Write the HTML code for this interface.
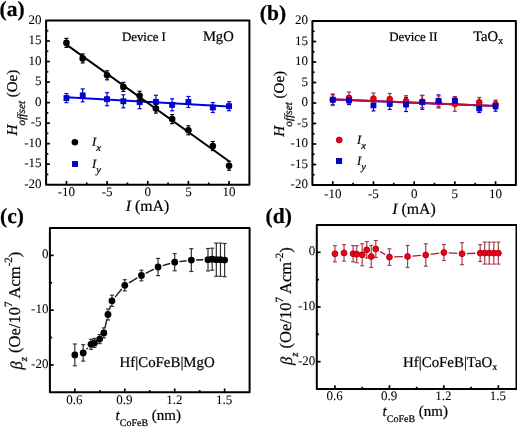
<!DOCTYPE html>
<html><head><meta charset="utf-8"><title>Figure</title>
<style>
html,body{margin:0;padding:0;background:#fff;}
body{width:520px;height:427px;overflow:hidden;}
svg{display:block;}
text{font-family:"Liberation Serif", "Times New Roman", serif;text-rendering:geometricPrecision;stroke:#000;stroke-width:0.22px;}
text.tl{stroke-width:0.05px;}
</style></head>
<body>
<svg width="520" height="427" viewBox="0 0 520 427">
<defs><filter id="bl" x="0" y="0" width="100%" height="100%"><feGaussianBlur stdDeviation="0.5"/></filter></defs>
<rect width="520" height="427" fill="#fff"/>
<g filter="url(#bl)">
<line x1="66.43" y1="184.70" x2="66.43" y2="180.90" stroke="#000" stroke-width="1.7" />
<line x1="107.09" y1="184.70" x2="107.09" y2="180.90" stroke="#000" stroke-width="1.7" />
<line x1="147.75" y1="184.70" x2="147.75" y2="180.90" stroke="#000" stroke-width="1.7" />
<line x1="188.41" y1="184.70" x2="188.41" y2="180.90" stroke="#000" stroke-width="1.7" />
<line x1="229.07" y1="184.70" x2="229.07" y2="180.90" stroke="#000" stroke-width="1.7" />
<line x1="86.76" y1="184.70" x2="86.76" y2="182.50" stroke="#000" stroke-width="1.7" />
<line x1="127.42" y1="184.70" x2="127.42" y2="182.50" stroke="#000" stroke-width="1.7" />
<line x1="168.08" y1="184.70" x2="168.08" y2="182.50" stroke="#000" stroke-width="1.7" />
<line x1="208.74" y1="184.70" x2="208.74" y2="182.50" stroke="#000" stroke-width="1.7" />
<line x1="46.10" y1="164.18" x2="49.90" y2="164.18" stroke="#000" stroke-width="1.7" />
<line x1="46.10" y1="143.65" x2="49.90" y2="143.65" stroke="#000" stroke-width="1.7" />
<line x1="46.10" y1="123.12" x2="49.90" y2="123.12" stroke="#000" stroke-width="1.7" />
<line x1="46.10" y1="102.60" x2="49.90" y2="102.60" stroke="#000" stroke-width="1.7" />
<line x1="46.10" y1="82.08" x2="49.90" y2="82.08" stroke="#000" stroke-width="1.7" />
<line x1="46.10" y1="61.55" x2="49.90" y2="61.55" stroke="#000" stroke-width="1.7" />
<line x1="46.10" y1="41.02" x2="49.90" y2="41.02" stroke="#000" stroke-width="1.7" />
<line x1="46.10" y1="174.44" x2="48.30" y2="174.44" stroke="#000" stroke-width="1.7" />
<line x1="46.10" y1="153.91" x2="48.30" y2="153.91" stroke="#000" stroke-width="1.7" />
<line x1="46.10" y1="133.39" x2="48.30" y2="133.39" stroke="#000" stroke-width="1.7" />
<line x1="46.10" y1="112.86" x2="48.30" y2="112.86" stroke="#000" stroke-width="1.7" />
<line x1="46.10" y1="92.34" x2="48.30" y2="92.34" stroke="#000" stroke-width="1.7" />
<line x1="46.10" y1="71.81" x2="48.30" y2="71.81" stroke="#000" stroke-width="1.7" />
<line x1="46.10" y1="51.29" x2="48.30" y2="51.29" stroke="#000" stroke-width="1.7" />
<line x1="46.10" y1="30.76" x2="48.30" y2="30.76" stroke="#000" stroke-width="1.7" />
<rect x="46.10" y="20.50" width="203.30" height="164.20" fill="none" stroke="#000" stroke-width="2" stroke-linejoin="round"/>
<text x="41.60" y="188.00" font-size="13" text-anchor="end" font-weight="normal" font-style="normal" fill="#000" class="tl">-20</text>
<text x="41.60" y="167.48" font-size="13" text-anchor="end" font-weight="normal" font-style="normal" fill="#000" class="tl">-15</text>
<text x="41.60" y="146.95" font-size="13" text-anchor="end" font-weight="normal" font-style="normal" fill="#000" class="tl">-10</text>
<text x="41.60" y="126.42" font-size="13" text-anchor="end" font-weight="normal" font-style="normal" fill="#000" class="tl">-5</text>
<text x="41.60" y="105.90" font-size="13" text-anchor="end" font-weight="normal" font-style="normal" fill="#000" class="tl">0</text>
<text x="41.60" y="85.38" font-size="13" text-anchor="end" font-weight="normal" font-style="normal" fill="#000" class="tl">5</text>
<text x="41.60" y="64.85" font-size="13" text-anchor="end" font-weight="normal" font-style="normal" fill="#000" class="tl">10</text>
<text x="41.60" y="44.32" font-size="13" text-anchor="end" font-weight="normal" font-style="normal" fill="#000" class="tl">15</text>
<text x="41.60" y="23.80" font-size="13" text-anchor="end" font-weight="normal" font-style="normal" fill="#000" class="tl">20</text>
<text x="66.43" y="196.20" font-size="13" text-anchor="middle" font-weight="normal" font-style="normal" fill="#000" class="tl">-10</text>
<text x="107.09" y="196.20" font-size="13" text-anchor="middle" font-weight="normal" font-style="normal" fill="#000" class="tl">-5</text>
<text x="147.75" y="196.20" font-size="13" text-anchor="middle" font-weight="normal" font-style="normal" fill="#000" class="tl">0</text>
<text x="188.41" y="196.20" font-size="13" text-anchor="middle" font-weight="normal" font-style="normal" fill="#000" class="tl">5</text>
<text x="229.07" y="196.20" font-size="13" text-anchor="middle" font-weight="normal" font-style="normal" fill="#000" class="tl">10</text>
<line x1="66.43" y1="93.60" x2="66.43" y2="102.60" stroke="#0000f0" stroke-width="1.2" />
<line x1="64.43" y1="93.60" x2="68.43" y2="93.60" stroke="#0000f0" stroke-width="1.2" />
<line x1="64.43" y1="102.60" x2="68.43" y2="102.60" stroke="#0000f0" stroke-width="1.2" />
<line x1="82.69" y1="88.90" x2="82.69" y2="101.90" stroke="#0000f0" stroke-width="1.2" />
<line x1="80.69" y1="88.90" x2="84.69" y2="88.90" stroke="#0000f0" stroke-width="1.2" />
<line x1="80.69" y1="101.90" x2="84.69" y2="101.90" stroke="#0000f0" stroke-width="1.2" />
<line x1="107.09" y1="92.70" x2="107.09" y2="105.70" stroke="#0000f0" stroke-width="1.2" />
<line x1="105.09" y1="92.70" x2="109.09" y2="92.70" stroke="#0000f0" stroke-width="1.2" />
<line x1="105.09" y1="105.70" x2="109.09" y2="105.70" stroke="#0000f0" stroke-width="1.2" />
<line x1="123.35" y1="94.80" x2="123.35" y2="107.80" stroke="#0000f0" stroke-width="1.2" />
<line x1="121.35" y1="94.80" x2="125.35" y2="94.80" stroke="#0000f0" stroke-width="1.2" />
<line x1="121.35" y1="107.80" x2="125.35" y2="107.80" stroke="#0000f0" stroke-width="1.2" />
<line x1="139.62" y1="95.70" x2="139.62" y2="108.70" stroke="#0000f0" stroke-width="1.2" />
<line x1="137.62" y1="95.70" x2="141.62" y2="95.70" stroke="#0000f0" stroke-width="1.2" />
<line x1="137.62" y1="108.70" x2="141.62" y2="108.70" stroke="#0000f0" stroke-width="1.2" />
<line x1="155.88" y1="95.30" x2="155.88" y2="108.30" stroke="#0000f0" stroke-width="1.2" />
<line x1="153.88" y1="95.30" x2="157.88" y2="95.30" stroke="#0000f0" stroke-width="1.2" />
<line x1="153.88" y1="108.30" x2="157.88" y2="108.30" stroke="#0000f0" stroke-width="1.2" />
<line x1="172.15" y1="98.80" x2="172.15" y2="110.80" stroke="#0000f0" stroke-width="1.2" />
<line x1="170.15" y1="98.80" x2="174.15" y2="98.80" stroke="#0000f0" stroke-width="1.2" />
<line x1="170.15" y1="110.80" x2="174.15" y2="110.80" stroke="#0000f0" stroke-width="1.2" />
<line x1="188.41" y1="96.50" x2="188.41" y2="107.50" stroke="#0000f0" stroke-width="1.2" />
<line x1="186.41" y1="96.50" x2="190.41" y2="96.50" stroke="#0000f0" stroke-width="1.2" />
<line x1="186.41" y1="107.50" x2="190.41" y2="107.50" stroke="#0000f0" stroke-width="1.2" />
<line x1="212.81" y1="102.50" x2="212.81" y2="112.50" stroke="#0000f0" stroke-width="1.2" />
<line x1="210.81" y1="102.50" x2="214.81" y2="102.50" stroke="#0000f0" stroke-width="1.2" />
<line x1="210.81" y1="112.50" x2="214.81" y2="112.50" stroke="#0000f0" stroke-width="1.2" />
<line x1="229.07" y1="101.70" x2="229.07" y2="110.70" stroke="#0000f0" stroke-width="1.2" />
<line x1="227.07" y1="101.70" x2="231.07" y2="101.70" stroke="#0000f0" stroke-width="1.2" />
<line x1="227.07" y1="110.70" x2="231.07" y2="110.70" stroke="#0000f0" stroke-width="1.2" />
<line x1="66.43" y1="97.30" x2="229.07" y2="106.50" stroke="#0000f0" stroke-width="2.0" />
<rect x="63.98" y="95.65" width="4.90" height="4.90" fill="#0000f0" stroke="#00008a" stroke-width="0.9"/>
<rect x="80.24" y="92.95" width="4.90" height="4.90" fill="#0000f0" stroke="#00008a" stroke-width="0.9"/>
<rect x="104.64" y="96.75" width="4.90" height="4.90" fill="#0000f0" stroke="#00008a" stroke-width="0.9"/>
<rect x="120.90" y="98.85" width="4.90" height="4.90" fill="#0000f0" stroke="#00008a" stroke-width="0.9"/>
<rect x="137.17" y="99.75" width="4.90" height="4.90" fill="#0000f0" stroke="#00008a" stroke-width="0.9"/>
<rect x="153.43" y="99.35" width="4.90" height="4.90" fill="#0000f0" stroke="#00008a" stroke-width="0.9"/>
<rect x="169.70" y="102.35" width="4.90" height="4.90" fill="#0000f0" stroke="#00008a" stroke-width="0.9"/>
<rect x="185.96" y="99.55" width="4.90" height="4.90" fill="#0000f0" stroke="#00008a" stroke-width="0.9"/>
<rect x="210.36" y="105.05" width="4.90" height="4.90" fill="#0000f0" stroke="#00008a" stroke-width="0.9"/>
<rect x="226.62" y="103.75" width="4.90" height="4.90" fill="#0000f0" stroke="#00008a" stroke-width="0.9"/>
<line x1="66.43" y1="38.40" x2="66.43" y2="47.40" stroke="#000" stroke-width="1.2" />
<line x1="64.43" y1="38.40" x2="68.43" y2="38.40" stroke="#000" stroke-width="1.2" />
<line x1="64.43" y1="47.40" x2="68.43" y2="47.40" stroke="#000" stroke-width="1.2" />
<line x1="82.69" y1="53.90" x2="82.69" y2="62.90" stroke="#000" stroke-width="1.2" />
<line x1="80.69" y1="53.90" x2="84.69" y2="53.90" stroke="#000" stroke-width="1.2" />
<line x1="80.69" y1="62.90" x2="84.69" y2="62.90" stroke="#000" stroke-width="1.2" />
<line x1="107.09" y1="70.80" x2="107.09" y2="79.80" stroke="#000" stroke-width="1.2" />
<line x1="105.09" y1="70.80" x2="109.09" y2="70.80" stroke="#000" stroke-width="1.2" />
<line x1="105.09" y1="79.80" x2="109.09" y2="79.80" stroke="#000" stroke-width="1.2" />
<line x1="123.35" y1="82.40" x2="123.35" y2="91.40" stroke="#000" stroke-width="1.2" />
<line x1="121.35" y1="82.40" x2="125.35" y2="82.40" stroke="#000" stroke-width="1.2" />
<line x1="121.35" y1="91.40" x2="125.35" y2="91.40" stroke="#000" stroke-width="1.2" />
<line x1="139.62" y1="91.30" x2="139.62" y2="100.30" stroke="#000" stroke-width="1.2" />
<line x1="137.62" y1="91.30" x2="141.62" y2="91.30" stroke="#000" stroke-width="1.2" />
<line x1="137.62" y1="100.30" x2="141.62" y2="100.30" stroke="#000" stroke-width="1.2" />
<line x1="155.88" y1="104.10" x2="155.88" y2="113.10" stroke="#000" stroke-width="1.2" />
<line x1="153.88" y1="104.10" x2="157.88" y2="104.10" stroke="#000" stroke-width="1.2" />
<line x1="153.88" y1="113.10" x2="157.88" y2="113.10" stroke="#000" stroke-width="1.2" />
<line x1="172.15" y1="114.60" x2="172.15" y2="123.60" stroke="#000" stroke-width="1.2" />
<line x1="170.15" y1="114.60" x2="174.15" y2="114.60" stroke="#000" stroke-width="1.2" />
<line x1="170.15" y1="123.60" x2="174.15" y2="123.60" stroke="#000" stroke-width="1.2" />
<line x1="188.41" y1="125.80" x2="188.41" y2="134.80" stroke="#000" stroke-width="1.2" />
<line x1="186.41" y1="125.80" x2="190.41" y2="125.80" stroke="#000" stroke-width="1.2" />
<line x1="186.41" y1="134.80" x2="190.41" y2="134.80" stroke="#000" stroke-width="1.2" />
<line x1="212.81" y1="141.50" x2="212.81" y2="150.50" stroke="#000" stroke-width="1.2" />
<line x1="210.81" y1="141.50" x2="214.81" y2="141.50" stroke="#000" stroke-width="1.2" />
<line x1="210.81" y1="150.50" x2="214.81" y2="150.50" stroke="#000" stroke-width="1.2" />
<line x1="229.07" y1="161.20" x2="229.07" y2="170.20" stroke="#000" stroke-width="1.2" />
<line x1="227.07" y1="161.20" x2="231.07" y2="161.20" stroke="#000" stroke-width="1.2" />
<line x1="227.07" y1="170.20" x2="231.07" y2="170.20" stroke="#000" stroke-width="1.2" />
<line x1="66.43" y1="44.60" x2="229.07" y2="161.20" stroke="#000" stroke-width="2.0" />
<circle cx="66.43" cy="42.90" r="3.30" fill="#000"/>
<circle cx="82.69" cy="58.40" r="3.30" fill="#000"/>
<circle cx="107.09" cy="75.30" r="3.30" fill="#000"/>
<circle cx="123.35" cy="86.90" r="3.30" fill="#000"/>
<circle cx="139.62" cy="95.80" r="3.30" fill="#000"/>
<circle cx="155.88" cy="108.60" r="3.30" fill="#000"/>
<circle cx="172.15" cy="119.10" r="3.30" fill="#000"/>
<circle cx="188.41" cy="130.30" r="3.30" fill="#000"/>
<circle cx="212.81" cy="146.00" r="3.30" fill="#000"/>
<circle cx="229.07" cy="165.70" r="3.30" fill="#000"/>
<circle cx="74.90" cy="142.30" r="3.30" fill="#000"/>
<rect x="72.55" y="161.55" width="4.90" height="4.90" fill="#0000f0" stroke="#00008a" stroke-width="0.9"/>
<text x="92" y="146.4" font-size="12.5" font-style="italic">I<tspan font-size="10.5" dy="5">x</tspan></text>
<text x="92" y="168.1" font-size="12.5" font-style="italic">I<tspan font-size="10.5" dy="5">y</tspan></text>
<text x="121.90" y="40.90" font-size="12.9" text-anchor="start" font-weight="normal" font-style="normal" fill="#000" >Device I</text>
<text x="202.90" y="41.00" font-size="14.6" text-anchor="start" font-weight="normal" font-style="normal" fill="#000" >MgO</text>
<text x="-0.50" y="16.20" font-size="21.5" text-anchor="start" font-weight="bold" font-style="normal" fill="#000" >(a)</text>
<text x="147.5" y="211.3" font-size="15.8" text-anchor="middle"><tspan font-style="italic">I</tspan> (mA)</text>
<text transform="translate(17,102.6) rotate(-90)" x="0" y="0" font-size="15" text-anchor="middle"><tspan font-style="italic">H</tspan><tspan font-style="italic" font-size="11.3" dy="8" dx="-0.8">offset</tspan><tspan dy="-8"> (Oe)</tspan></text>
<line x1="332.75" y1="185.00" x2="332.75" y2="181.20" stroke="#000" stroke-width="1.7" />
<line x1="373.45" y1="185.00" x2="373.45" y2="181.20" stroke="#000" stroke-width="1.7" />
<line x1="414.15" y1="185.00" x2="414.15" y2="181.20" stroke="#000" stroke-width="1.7" />
<line x1="454.85" y1="185.00" x2="454.85" y2="181.20" stroke="#000" stroke-width="1.7" />
<line x1="495.55" y1="185.00" x2="495.55" y2="181.20" stroke="#000" stroke-width="1.7" />
<line x1="353.10" y1="185.00" x2="353.10" y2="182.80" stroke="#000" stroke-width="1.7" />
<line x1="393.80" y1="185.00" x2="393.80" y2="182.80" stroke="#000" stroke-width="1.7" />
<line x1="434.50" y1="185.00" x2="434.50" y2="182.80" stroke="#000" stroke-width="1.7" />
<line x1="475.20" y1="185.00" x2="475.20" y2="182.80" stroke="#000" stroke-width="1.7" />
<line x1="312.40" y1="164.50" x2="316.20" y2="164.50" stroke="#000" stroke-width="1.7" />
<line x1="312.40" y1="144.00" x2="316.20" y2="144.00" stroke="#000" stroke-width="1.7" />
<line x1="312.40" y1="123.50" x2="316.20" y2="123.50" stroke="#000" stroke-width="1.7" />
<line x1="312.40" y1="103.00" x2="316.20" y2="103.00" stroke="#000" stroke-width="1.7" />
<line x1="312.40" y1="82.50" x2="316.20" y2="82.50" stroke="#000" stroke-width="1.7" />
<line x1="312.40" y1="62.00" x2="316.20" y2="62.00" stroke="#000" stroke-width="1.7" />
<line x1="312.40" y1="41.50" x2="316.20" y2="41.50" stroke="#000" stroke-width="1.7" />
<line x1="312.40" y1="174.75" x2="314.60" y2="174.75" stroke="#000" stroke-width="1.7" />
<line x1="312.40" y1="154.25" x2="314.60" y2="154.25" stroke="#000" stroke-width="1.7" />
<line x1="312.40" y1="133.75" x2="314.60" y2="133.75" stroke="#000" stroke-width="1.7" />
<line x1="312.40" y1="113.25" x2="314.60" y2="113.25" stroke="#000" stroke-width="1.7" />
<line x1="312.40" y1="92.75" x2="314.60" y2="92.75" stroke="#000" stroke-width="1.7" />
<line x1="312.40" y1="72.25" x2="314.60" y2="72.25" stroke="#000" stroke-width="1.7" />
<line x1="312.40" y1="51.75" x2="314.60" y2="51.75" stroke="#000" stroke-width="1.7" />
<line x1="312.40" y1="31.25" x2="314.60" y2="31.25" stroke="#000" stroke-width="1.7" />
<rect x="312.40" y="21.00" width="203.50" height="164.00" fill="none" stroke="#000" stroke-width="2" stroke-linejoin="round"/>
<text x="307.90" y="188.30" font-size="13" text-anchor="end" font-weight="normal" font-style="normal" fill="#000" class="tl">-20</text>
<text x="307.90" y="167.80" font-size="13" text-anchor="end" font-weight="normal" font-style="normal" fill="#000" class="tl">-15</text>
<text x="307.90" y="147.30" font-size="13" text-anchor="end" font-weight="normal" font-style="normal" fill="#000" class="tl">-10</text>
<text x="307.90" y="126.80" font-size="13" text-anchor="end" font-weight="normal" font-style="normal" fill="#000" class="tl">-5</text>
<text x="307.90" y="106.30" font-size="13" text-anchor="end" font-weight="normal" font-style="normal" fill="#000" class="tl">0</text>
<text x="307.90" y="85.80" font-size="13" text-anchor="end" font-weight="normal" font-style="normal" fill="#000" class="tl">5</text>
<text x="307.90" y="65.30" font-size="13" text-anchor="end" font-weight="normal" font-style="normal" fill="#000" class="tl">10</text>
<text x="307.90" y="44.80" font-size="13" text-anchor="end" font-weight="normal" font-style="normal" fill="#000" class="tl">15</text>
<text x="307.90" y="24.30" font-size="13" text-anchor="end" font-weight="normal" font-style="normal" fill="#000" class="tl">20</text>
<text x="332.75" y="197.80" font-size="13" text-anchor="middle" font-weight="normal" font-style="normal" fill="#000" class="tl">-10</text>
<text x="373.45" y="197.80" font-size="13" text-anchor="middle" font-weight="normal" font-style="normal" fill="#000" class="tl">-5</text>
<text x="414.15" y="197.80" font-size="13" text-anchor="middle" font-weight="normal" font-style="normal" fill="#000" class="tl">0</text>
<text x="454.85" y="197.80" font-size="13" text-anchor="middle" font-weight="normal" font-style="normal" fill="#000" class="tl">5</text>
<text x="495.55" y="197.80" font-size="13" text-anchor="middle" font-weight="normal" font-style="normal" fill="#000" class="tl">10</text>
<line x1="332.75" y1="94.70" x2="332.75" y2="104.70" stroke="#0000f0" stroke-width="1.2" />
<line x1="330.75" y1="94.70" x2="334.75" y2="94.70" stroke="#0000f0" stroke-width="1.2" />
<line x1="330.75" y1="104.70" x2="334.75" y2="104.70" stroke="#0000f0" stroke-width="1.2" />
<line x1="349.03" y1="96.00" x2="349.03" y2="104.60" stroke="#0000f0" stroke-width="1.2" />
<line x1="347.03" y1="96.00" x2="351.03" y2="96.00" stroke="#0000f0" stroke-width="1.2" />
<line x1="347.03" y1="104.60" x2="351.03" y2="104.60" stroke="#0000f0" stroke-width="1.2" />
<line x1="373.45" y1="99.90" x2="373.45" y2="110.90" stroke="#0000f0" stroke-width="1.2" />
<line x1="371.45" y1="99.90" x2="375.45" y2="99.90" stroke="#0000f0" stroke-width="1.2" />
<line x1="371.45" y1="110.90" x2="375.45" y2="110.90" stroke="#0000f0" stroke-width="1.2" />
<line x1="389.73" y1="98.40" x2="389.73" y2="109.40" stroke="#0000f0" stroke-width="1.2" />
<line x1="387.73" y1="98.40" x2="391.73" y2="98.40" stroke="#0000f0" stroke-width="1.2" />
<line x1="387.73" y1="109.40" x2="391.73" y2="109.40" stroke="#0000f0" stroke-width="1.2" />
<line x1="406.01" y1="97.50" x2="406.01" y2="111.50" stroke="#0000f0" stroke-width="1.2" />
<line x1="404.01" y1="97.50" x2="408.01" y2="97.50" stroke="#0000f0" stroke-width="1.2" />
<line x1="404.01" y1="111.50" x2="408.01" y2="111.50" stroke="#0000f0" stroke-width="1.2" />
<line x1="422.29" y1="95.30" x2="422.29" y2="109.30" stroke="#0000f0" stroke-width="1.2" />
<line x1="420.29" y1="95.30" x2="424.29" y2="95.30" stroke="#0000f0" stroke-width="1.2" />
<line x1="420.29" y1="109.30" x2="424.29" y2="109.30" stroke="#0000f0" stroke-width="1.2" />
<line x1="438.57" y1="94.90" x2="438.57" y2="106.90" stroke="#0000f0" stroke-width="1.2" />
<line x1="436.57" y1="94.90" x2="440.57" y2="94.90" stroke="#0000f0" stroke-width="1.2" />
<line x1="436.57" y1="106.90" x2="440.57" y2="106.90" stroke="#0000f0" stroke-width="1.2" />
<line x1="454.85" y1="96.60" x2="454.85" y2="104.60" stroke="#0000f0" stroke-width="1.2" />
<line x1="452.85" y1="96.60" x2="456.85" y2="96.60" stroke="#0000f0" stroke-width="1.2" />
<line x1="452.85" y1="104.60" x2="456.85" y2="104.60" stroke="#0000f0" stroke-width="1.2" />
<line x1="479.27" y1="104.50" x2="479.27" y2="112.50" stroke="#0000f0" stroke-width="1.2" />
<line x1="477.27" y1="104.50" x2="481.27" y2="104.50" stroke="#0000f0" stroke-width="1.2" />
<line x1="477.27" y1="112.50" x2="481.27" y2="112.50" stroke="#0000f0" stroke-width="1.2" />
<line x1="495.55" y1="101.20" x2="495.55" y2="111.20" stroke="#0000f0" stroke-width="1.2" />
<line x1="493.55" y1="101.20" x2="497.55" y2="101.20" stroke="#0000f0" stroke-width="1.2" />
<line x1="493.55" y1="111.20" x2="497.55" y2="111.20" stroke="#0000f0" stroke-width="1.2" />
<line x1="332.75" y1="99.50" x2="495.55" y2="106.00" stroke="#0000f0" stroke-width="2.2" />
<line x1="332.75" y1="94.00" x2="332.75" y2="105.60" stroke="#c02040" stroke-width="1.2" />
<line x1="330.75" y1="94.00" x2="334.75" y2="94.00" stroke="#c02040" stroke-width="1.2" />
<line x1="330.75" y1="105.60" x2="334.75" y2="105.60" stroke="#c02040" stroke-width="1.2" />
<line x1="349.03" y1="92.00" x2="349.03" y2="103.60" stroke="#c02040" stroke-width="1.2" />
<line x1="347.03" y1="92.00" x2="351.03" y2="92.00" stroke="#c02040" stroke-width="1.2" />
<line x1="347.03" y1="103.60" x2="351.03" y2="103.60" stroke="#c02040" stroke-width="1.2" />
<line x1="373.45" y1="93.00" x2="373.45" y2="104.00" stroke="#c02040" stroke-width="1.2" />
<line x1="371.45" y1="93.00" x2="375.45" y2="93.00" stroke="#c02040" stroke-width="1.2" />
<line x1="371.45" y1="104.00" x2="375.45" y2="104.00" stroke="#c02040" stroke-width="1.2" />
<line x1="389.73" y1="93.50" x2="389.73" y2="104.50" stroke="#c02040" stroke-width="1.2" />
<line x1="387.73" y1="93.50" x2="391.73" y2="93.50" stroke="#c02040" stroke-width="1.2" />
<line x1="387.73" y1="104.50" x2="391.73" y2="104.50" stroke="#c02040" stroke-width="1.2" />
<line x1="406.01" y1="95.70" x2="406.01" y2="106.70" stroke="#c02040" stroke-width="1.2" />
<line x1="404.01" y1="95.70" x2="408.01" y2="95.70" stroke="#c02040" stroke-width="1.2" />
<line x1="404.01" y1="106.70" x2="408.01" y2="106.70" stroke="#c02040" stroke-width="1.2" />
<line x1="422.29" y1="95.60" x2="422.29" y2="107.60" stroke="#c02040" stroke-width="1.2" />
<line x1="420.29" y1="95.60" x2="424.29" y2="95.60" stroke="#c02040" stroke-width="1.2" />
<line x1="420.29" y1="107.60" x2="424.29" y2="107.60" stroke="#c02040" stroke-width="1.2" />
<line x1="438.57" y1="96.00" x2="438.57" y2="108.00" stroke="#c02040" stroke-width="1.2" />
<line x1="436.57" y1="96.00" x2="440.57" y2="96.00" stroke="#c02040" stroke-width="1.2" />
<line x1="436.57" y1="108.00" x2="440.57" y2="108.00" stroke="#c02040" stroke-width="1.2" />
<line x1="454.85" y1="96.70" x2="454.85" y2="111.30" stroke="#c02040" stroke-width="1.2" />
<line x1="452.85" y1="96.70" x2="456.85" y2="96.70" stroke="#c02040" stroke-width="1.2" />
<line x1="452.85" y1="111.30" x2="456.85" y2="111.30" stroke="#c02040" stroke-width="1.2" />
<line x1="479.27" y1="97.50" x2="479.27" y2="106.90" stroke="#c02040" stroke-width="1.2" />
<line x1="477.27" y1="97.50" x2="481.27" y2="97.50" stroke="#c02040" stroke-width="1.2" />
<line x1="477.27" y1="106.90" x2="481.27" y2="106.90" stroke="#c02040" stroke-width="1.2" />
<line x1="495.55" y1="100.10" x2="495.55" y2="109.10" stroke="#c02040" stroke-width="1.2" />
<line x1="493.55" y1="100.10" x2="497.55" y2="100.10" stroke="#c02040" stroke-width="1.2" />
<line x1="493.55" y1="109.10" x2="497.55" y2="109.10" stroke="#c02040" stroke-width="1.2" />
<line x1="332.75" y1="99.20" x2="495.55" y2="106.00" stroke="#c0103a" stroke-width="2.1" />
<circle cx="332.75" cy="99.80" r="2.85" fill="#f00018" stroke="#a8000c" stroke-width="0.9"/>
<circle cx="349.03" cy="97.80" r="2.85" fill="#f00018" stroke="#a8000c" stroke-width="0.9"/>
<circle cx="373.45" cy="98.50" r="2.85" fill="#f00018" stroke="#a8000c" stroke-width="0.9"/>
<circle cx="389.73" cy="99.00" r="2.85" fill="#f00018" stroke="#a8000c" stroke-width="0.9"/>
<circle cx="406.01" cy="101.20" r="2.85" fill="#f00018" stroke="#a8000c" stroke-width="0.9"/>
<circle cx="422.29" cy="101.60" r="2.85" fill="#f00018" stroke="#a8000c" stroke-width="0.9"/>
<circle cx="438.57" cy="102.00" r="2.85" fill="#f00018" stroke="#a8000c" stroke-width="0.9"/>
<circle cx="454.85" cy="104.00" r="2.85" fill="#f00018" stroke="#a8000c" stroke-width="0.9"/>
<circle cx="479.27" cy="102.20" r="2.85" fill="#f00018" stroke="#a8000c" stroke-width="0.9"/>
<circle cx="495.55" cy="104.60" r="2.85" fill="#f00018" stroke="#a8000c" stroke-width="0.9"/>
<rect x="330.30" y="97.25" width="4.90" height="4.90" fill="#0000f0" stroke="#00008a" stroke-width="0.9"/>
<rect x="346.58" y="97.85" width="4.90" height="4.90" fill="#0000f0" stroke="#00008a" stroke-width="0.9"/>
<rect x="371.00" y="102.95" width="4.90" height="4.90" fill="#0000f0" stroke="#00008a" stroke-width="0.9"/>
<rect x="387.28" y="101.45" width="4.90" height="4.90" fill="#0000f0" stroke="#00008a" stroke-width="0.9"/>
<rect x="403.56" y="102.05" width="4.90" height="4.90" fill="#0000f0" stroke="#00008a" stroke-width="0.9"/>
<rect x="419.84" y="99.85" width="4.90" height="4.90" fill="#0000f0" stroke="#00008a" stroke-width="0.9"/>
<rect x="436.12" y="98.45" width="4.90" height="4.90" fill="#0000f0" stroke="#00008a" stroke-width="0.9"/>
<rect x="452.40" y="98.15" width="4.90" height="4.90" fill="#0000f0" stroke="#00008a" stroke-width="0.9"/>
<rect x="476.82" y="106.05" width="4.90" height="4.90" fill="#0000f0" stroke="#00008a" stroke-width="0.9"/>
<rect x="493.10" y="103.75" width="4.90" height="4.90" fill="#0000f0" stroke="#00008a" stroke-width="0.9"/>
<circle cx="339.20" cy="140.00" r="2.95" fill="#f00018" stroke="#a8000c" stroke-width="0.9"/>
<rect x="336.55" y="158.45" width="5.10" height="5.10" fill="#0000f0" stroke="#00008a" stroke-width="0.9"/>
<text x="357" y="144" font-size="12.5" font-style="italic">I<tspan font-size="10.5" dy="5">x</tspan></text>
<text x="357" y="165.4" font-size="12.5" font-style="italic">I<tspan font-size="10.5" dy="5">y</tspan></text>
<text x="389.30" y="40.70" font-size="12.9" text-anchor="start" font-weight="normal" font-style="normal" fill="#000" >Device II</text>
<text x="473.2" y="40.9" font-size="14.6">TaO<tspan font-size="10.5" dy="3">x</tspan></text>
<text x="259.80" y="19.90" font-size="21.5" text-anchor="start" font-weight="bold" font-style="normal" fill="#000" >(b)</text>
<text x="414" y="213.6" font-size="15.8" text-anchor="middle"><tspan font-style="italic">I</tspan> (mA)</text>
<text transform="translate(283.5,103.8) rotate(-90)" x="0" y="0" font-size="15" text-anchor="middle"><tspan font-style="italic">H</tspan><tspan font-style="italic" font-size="11.3" dy="8" dx="-0.8">offset</tspan><tspan dy="-8"> (Oe)</tspan></text>
<line x1="74.86" y1="392.30" x2="74.86" y2="388.50" stroke="#000" stroke-width="1.7" />
<line x1="124.79" y1="392.30" x2="124.79" y2="388.50" stroke="#000" stroke-width="1.7" />
<line x1="174.71" y1="392.30" x2="174.71" y2="388.50" stroke="#000" stroke-width="1.7" />
<line x1="224.64" y1="392.30" x2="224.64" y2="388.50" stroke="#000" stroke-width="1.7" />
<line x1="99.82" y1="392.30" x2="99.82" y2="390.10" stroke="#000" stroke-width="1.7" />
<line x1="149.75" y1="392.30" x2="149.75" y2="390.10" stroke="#000" stroke-width="1.7" />
<line x1="199.68" y1="392.30" x2="199.68" y2="390.10" stroke="#000" stroke-width="1.7" />
<line x1="49.90" y1="255.38" x2="53.70" y2="255.38" stroke="#000" stroke-width="1.7" />
<line x1="49.90" y1="310.15" x2="53.70" y2="310.15" stroke="#000" stroke-width="1.7" />
<line x1="49.90" y1="364.92" x2="53.70" y2="364.92" stroke="#000" stroke-width="1.7" />
<line x1="49.90" y1="282.77" x2="52.10" y2="282.77" stroke="#000" stroke-width="1.7" />
<line x1="49.90" y1="337.53" x2="52.10" y2="337.53" stroke="#000" stroke-width="1.7" />
<rect x="49.90" y="228.00" width="199.70" height="164.30" fill="none" stroke="#000" stroke-width="2" stroke-linejoin="round"/>
<text x="48.40" y="258.38" font-size="13" text-anchor="end" font-weight="normal" font-style="normal" fill="#000" class="tl">0</text>
<text x="48.40" y="313.15" font-size="13" text-anchor="end" font-weight="normal" font-style="normal" fill="#000" class="tl">-10</text>
<text x="48.40" y="367.92" font-size="13" text-anchor="end" font-weight="normal" font-style="normal" fill="#000" class="tl">-20</text>
<text x="74.46" y="403.60" font-size="13" text-anchor="middle" font-weight="normal" font-style="normal" fill="#000" class="tl">0.6</text>
<text x="124.39" y="403.60" font-size="13" text-anchor="middle" font-weight="normal" font-style="normal" fill="#000" class="tl">0.9</text>
<text x="174.31" y="403.60" font-size="13" text-anchor="middle" font-weight="normal" font-style="normal" fill="#000" class="tl">1.2</text>
<text x="224.24" y="403.60" font-size="13" text-anchor="middle" font-weight="normal" font-style="normal" fill="#000" class="tl">1.5</text>
<line x1="86.41" y1="349.35" x2="87.78" y2="347.85" stroke="#1a1a1a" stroke-width="1.4"/>
<line x1="104.88" y1="328.22" x2="106.92" y2="319.18" stroke="#1a1a1a" stroke-width="1.4"/>
<line x1="109.32" y1="309.89" x2="110.63" y2="305.41" stroke="#1a1a1a" stroke-width="1.4"/>
<line x1="115.03" y1="297.10" x2="121.73" y2="289.00" stroke="#1a1a1a" stroke-width="1.4"/>
<line x1="128.92" y1="282.86" x2="137.29" y2="277.94" stroke="#1a1a1a" stroke-width="1.4"/>
<line x1="145.70" y1="273.32" x2="153.80" y2="269.18" stroke="#1a1a1a" stroke-width="1.4"/>
<line x1="162.68" y1="265.67" x2="170.10" y2="263.53" stroke="#1a1a1a" stroke-width="1.4"/>
<line x1="179.47" y1="261.60" x2="186.59" y2="260.70" stroke="#1a1a1a" stroke-width="1.4"/>
<line x1="196.15" y1="259.98" x2="203.20" y2="259.82" stroke="#1a1a1a" stroke-width="1.4"/>
<line x1="74.86" y1="344.00" x2="74.86" y2="365.80" stroke="#333" stroke-width="1.2" />
<line x1="72.86" y1="344.00" x2="76.86" y2="344.00" stroke="#333" stroke-width="1.2" />
<line x1="72.86" y1="365.80" x2="76.86" y2="365.80" stroke="#333" stroke-width="1.2" />
<line x1="83.18" y1="344.70" x2="83.18" y2="361.10" stroke="#333" stroke-width="1.2" />
<line x1="81.18" y1="344.70" x2="85.18" y2="344.70" stroke="#333" stroke-width="1.2" />
<line x1="81.18" y1="361.10" x2="85.18" y2="361.10" stroke="#333" stroke-width="1.2" />
<line x1="91.00" y1="339.30" x2="91.00" y2="349.30" stroke="#333" stroke-width="1.2" />
<line x1="89.00" y1="339.30" x2="93.00" y2="339.30" stroke="#333" stroke-width="1.2" />
<line x1="89.00" y1="349.30" x2="93.00" y2="349.30" stroke="#333" stroke-width="1.2" />
<line x1="94.50" y1="338.40" x2="94.50" y2="347.40" stroke="#333" stroke-width="1.2" />
<line x1="92.50" y1="338.40" x2="96.50" y2="338.40" stroke="#333" stroke-width="1.2" />
<line x1="92.50" y1="347.40" x2="96.50" y2="347.40" stroke="#333" stroke-width="1.2" />
<line x1="99.66" y1="334.60" x2="99.66" y2="343.60" stroke="#333" stroke-width="1.2" />
<line x1="97.66" y1="334.60" x2="101.66" y2="334.60" stroke="#333" stroke-width="1.2" />
<line x1="97.66" y1="343.60" x2="101.66" y2="343.60" stroke="#333" stroke-width="1.2" />
<line x1="103.82" y1="327.90" x2="103.82" y2="337.90" stroke="#333" stroke-width="1.2" />
<line x1="101.82" y1="327.90" x2="105.82" y2="327.90" stroke="#333" stroke-width="1.2" />
<line x1="101.82" y1="337.90" x2="105.82" y2="337.90" stroke="#333" stroke-width="1.2" />
<line x1="107.98" y1="309.00" x2="107.98" y2="320.00" stroke="#333" stroke-width="1.2" />
<line x1="105.98" y1="309.00" x2="109.98" y2="309.00" stroke="#333" stroke-width="1.2" />
<line x1="105.98" y1="320.00" x2="109.98" y2="320.00" stroke="#333" stroke-width="1.2" />
<line x1="111.97" y1="295.20" x2="111.97" y2="306.40" stroke="#333" stroke-width="1.2" />
<line x1="109.97" y1="295.20" x2="113.97" y2="295.20" stroke="#333" stroke-width="1.2" />
<line x1="109.97" y1="306.40" x2="113.97" y2="306.40" stroke="#333" stroke-width="1.2" />
<line x1="124.79" y1="279.70" x2="124.79" y2="290.90" stroke="#333" stroke-width="1.2" />
<line x1="122.79" y1="279.70" x2="126.79" y2="279.70" stroke="#333" stroke-width="1.2" />
<line x1="122.79" y1="290.90" x2="126.79" y2="290.90" stroke="#333" stroke-width="1.2" />
<line x1="141.43" y1="270.20" x2="141.43" y2="280.80" stroke="#333" stroke-width="1.2" />
<line x1="139.43" y1="270.20" x2="143.43" y2="270.20" stroke="#333" stroke-width="1.2" />
<line x1="139.43" y1="280.80" x2="143.43" y2="280.80" stroke="#333" stroke-width="1.2" />
<line x1="158.07" y1="258.40" x2="158.07" y2="275.60" stroke="#333" stroke-width="1.2" />
<line x1="156.07" y1="258.40" x2="160.07" y2="258.40" stroke="#333" stroke-width="1.2" />
<line x1="156.07" y1="275.60" x2="160.07" y2="275.60" stroke="#333" stroke-width="1.2" />
<line x1="174.71" y1="253.60" x2="174.71" y2="270.80" stroke="#333" stroke-width="1.2" />
<line x1="172.71" y1="253.60" x2="176.71" y2="253.60" stroke="#333" stroke-width="1.2" />
<line x1="172.71" y1="270.80" x2="176.71" y2="270.80" stroke="#333" stroke-width="1.2" />
<line x1="191.35" y1="248.70" x2="191.35" y2="271.50" stroke="#333" stroke-width="1.2" />
<line x1="189.35" y1="248.70" x2="193.35" y2="248.70" stroke="#333" stroke-width="1.2" />
<line x1="189.35" y1="271.50" x2="193.35" y2="271.50" stroke="#333" stroke-width="1.2" />
<line x1="208.00" y1="248.50" x2="208.00" y2="270.90" stroke="#333" stroke-width="1.2" />
<line x1="206.00" y1="248.50" x2="210.00" y2="248.50" stroke="#333" stroke-width="1.2" />
<line x1="206.00" y1="270.90" x2="210.00" y2="270.90" stroke="#333" stroke-width="1.2" />
<line x1="212.16" y1="248.20" x2="212.16" y2="270.20" stroke="#333" stroke-width="1.2" />
<line x1="210.16" y1="248.20" x2="214.16" y2="248.20" stroke="#333" stroke-width="1.2" />
<line x1="210.16" y1="270.20" x2="214.16" y2="270.20" stroke="#333" stroke-width="1.2" />
<line x1="216.32" y1="243.10" x2="216.32" y2="276.30" stroke="#333" stroke-width="1.2" />
<line x1="214.32" y1="243.10" x2="218.32" y2="243.10" stroke="#333" stroke-width="1.2" />
<line x1="214.32" y1="276.30" x2="218.32" y2="276.30" stroke="#333" stroke-width="1.2" />
<line x1="220.48" y1="243.10" x2="220.48" y2="276.30" stroke="#333" stroke-width="1.2" />
<line x1="218.48" y1="243.10" x2="222.48" y2="243.10" stroke="#333" stroke-width="1.2" />
<line x1="218.48" y1="276.30" x2="222.48" y2="276.30" stroke="#333" stroke-width="1.2" />
<line x1="224.64" y1="243.50" x2="224.64" y2="276.70" stroke="#333" stroke-width="1.2" />
<line x1="222.64" y1="243.50" x2="226.64" y2="243.50" stroke="#333" stroke-width="1.2" />
<line x1="222.64" y1="276.70" x2="226.64" y2="276.70" stroke="#333" stroke-width="1.2" />
<circle cx="74.86" cy="354.90" r="3.40" fill="#000"/>
<circle cx="83.18" cy="352.90" r="3.40" fill="#000"/>
<circle cx="91.00" cy="344.30" r="3.40" fill="#000"/>
<circle cx="94.50" cy="342.90" r="3.40" fill="#000"/>
<circle cx="99.66" cy="339.10" r="3.40" fill="#000"/>
<circle cx="103.82" cy="332.90" r="3.40" fill="#000"/>
<circle cx="107.98" cy="314.50" r="3.40" fill="#000"/>
<circle cx="111.97" cy="300.80" r="3.40" fill="#000"/>
<circle cx="124.79" cy="285.30" r="3.40" fill="#000"/>
<circle cx="141.43" cy="275.50" r="3.40" fill="#000"/>
<circle cx="158.07" cy="267.00" r="3.40" fill="#000"/>
<circle cx="174.71" cy="262.20" r="3.40" fill="#000"/>
<circle cx="191.35" cy="260.10" r="3.40" fill="#000"/>
<circle cx="208.00" cy="259.70" r="3.40" fill="#000"/>
<circle cx="212.16" cy="259.20" r="3.40" fill="#000"/>
<circle cx="216.32" cy="259.70" r="3.40" fill="#000"/>
<circle cx="220.48" cy="259.70" r="3.40" fill="#000"/>
<circle cx="224.64" cy="260.10" r="3.40" fill="#000"/>
<text x="119.5" y="366.8" font-size="14.9">Hf|CoFeB|MgO</text>
<text x="0.00" y="223.00" font-size="21.5" text-anchor="start" font-weight="bold" font-style="normal" fill="#000" >(c)</text>
<text x="148.3" y="420.2" font-size="15" text-anchor="middle"><tspan font-style="italic">t</tspan><tspan font-size="10" dy="5.5">CoFeB</tspan><tspan dy="-5.5"> (nm)</tspan></text>
<text transform="translate(20.3,310.6) rotate(-90)" x="0" y="0" font-size="16.5" text-anchor="middle"><tspan font-style="italic" dy="1.5">β</tspan><tspan font-style="italic" font-size="11" dy="5.5">z</tspan><tspan dy="-7"> (Oe/10</tspan><tspan font-size="11" dy="-8">7</tspan><tspan dy="8"> Acm</tspan><tspan font-size="11" dy="-8">-2</tspan><tspan dy="8">)</tspan></text>
<line x1="334.95" y1="389.00" x2="334.95" y2="385.20" stroke="#000" stroke-width="1.7" />
<line x1="389.42" y1="389.00" x2="389.42" y2="385.20" stroke="#000" stroke-width="1.7" />
<line x1="443.88" y1="389.00" x2="443.88" y2="385.20" stroke="#000" stroke-width="1.7" />
<line x1="498.35" y1="389.00" x2="498.35" y2="385.20" stroke="#000" stroke-width="1.7" />
<line x1="362.19" y1="389.00" x2="362.19" y2="386.80" stroke="#000" stroke-width="1.7" />
<line x1="416.65" y1="389.00" x2="416.65" y2="386.80" stroke="#000" stroke-width="1.7" />
<line x1="471.11" y1="389.00" x2="471.11" y2="386.80" stroke="#000" stroke-width="1.7" />
<line x1="316.80" y1="252.33" x2="320.60" y2="252.33" stroke="#000" stroke-width="1.7" />
<line x1="316.80" y1="307.00" x2="320.60" y2="307.00" stroke="#000" stroke-width="1.7" />
<line x1="316.80" y1="361.67" x2="320.60" y2="361.67" stroke="#000" stroke-width="1.7" />
<line x1="316.80" y1="279.67" x2="319.00" y2="279.67" stroke="#000" stroke-width="1.7" />
<line x1="316.80" y1="334.33" x2="319.00" y2="334.33" stroke="#000" stroke-width="1.7" />
<rect x="316.80" y="225.00" width="199.70" height="164.00" fill="none" stroke="#000" stroke-width="2" stroke-linejoin="round"/>
<text x="315.30" y="255.33" font-size="13" text-anchor="end" font-weight="normal" font-style="normal" fill="#000" class="tl">0</text>
<text x="315.30" y="310.00" font-size="13" text-anchor="end" font-weight="normal" font-style="normal" fill="#000" class="tl">-10</text>
<text x="315.30" y="364.67" font-size="13" text-anchor="end" font-weight="normal" font-style="normal" fill="#000" class="tl">-20</text>
<text x="334.55" y="400.30" font-size="13" text-anchor="middle" font-weight="normal" font-style="normal" fill="#000" class="tl">0.6</text>
<text x="389.02" y="400.30" font-size="13" text-anchor="middle" font-weight="normal" font-style="normal" fill="#000" class="tl">0.9</text>
<text x="443.48" y="400.30" font-size="13" text-anchor="middle" font-weight="normal" font-style="normal" fill="#000" class="tl">1.2</text>
<text x="497.95" y="400.30" font-size="13" text-anchor="middle" font-weight="normal" font-style="normal" fill="#000" class="tl">1.5</text>
<line x1="379.93" y1="251.45" x2="385.29" y2="254.65" stroke="#b01828" stroke-width="1.3"/>
<line x1="394.22" y1="256.94" x2="402.78" y2="256.66" stroke="#b01828" stroke-width="1.3"/>
<line x1="412.36" y1="256.10" x2="420.94" y2="255.40" stroke="#b01828" stroke-width="1.3"/>
<line x1="430.48" y1="254.35" x2="439.13" y2="253.15" stroke="#b01828" stroke-width="1.3"/>
<line x1="448.67" y1="252.82" x2="457.25" y2="253.38" stroke="#b01828" stroke-width="1.3"/>
<line x1="466.83" y1="253.54" x2="475.39" y2="253.26" stroke="#b01828" stroke-width="1.3"/>
<line x1="334.95" y1="245.70" x2="334.95" y2="261.90" stroke="#a84050" stroke-width="1.2" />
<line x1="332.95" y1="245.70" x2="336.95" y2="245.70" stroke="#a84050" stroke-width="1.2" />
<line x1="332.95" y1="261.90" x2="336.95" y2="261.90" stroke="#a84050" stroke-width="1.2" />
<line x1="344.03" y1="244.70" x2="344.03" y2="261.10" stroke="#a84050" stroke-width="1.2" />
<line x1="342.03" y1="244.70" x2="346.03" y2="244.70" stroke="#a84050" stroke-width="1.2" />
<line x1="342.03" y1="261.10" x2="346.03" y2="261.10" stroke="#a84050" stroke-width="1.2" />
<line x1="353.11" y1="245.60" x2="353.11" y2="261.80" stroke="#a84050" stroke-width="1.2" />
<line x1="351.11" y1="245.60" x2="355.11" y2="245.60" stroke="#a84050" stroke-width="1.2" />
<line x1="351.11" y1="261.80" x2="355.11" y2="261.80" stroke="#a84050" stroke-width="1.2" />
<line x1="356.74" y1="245.70" x2="356.74" y2="262.70" stroke="#a84050" stroke-width="1.2" />
<line x1="354.74" y1="245.70" x2="358.74" y2="245.70" stroke="#a84050" stroke-width="1.2" />
<line x1="354.74" y1="262.70" x2="358.74" y2="262.70" stroke="#a84050" stroke-width="1.2" />
<line x1="362.19" y1="243.80" x2="362.19" y2="265.80" stroke="#a84050" stroke-width="1.2" />
<line x1="360.19" y1="243.80" x2="364.19" y2="243.80" stroke="#a84050" stroke-width="1.2" />
<line x1="360.19" y1="265.80" x2="364.19" y2="265.80" stroke="#a84050" stroke-width="1.2" />
<line x1="366.73" y1="241.60" x2="366.73" y2="258.00" stroke="#a84050" stroke-width="1.2" />
<line x1="364.73" y1="241.60" x2="368.73" y2="241.60" stroke="#a84050" stroke-width="1.2" />
<line x1="364.73" y1="258.00" x2="368.73" y2="258.00" stroke="#a84050" stroke-width="1.2" />
<line x1="371.26" y1="245.50" x2="371.26" y2="267.50" stroke="#a84050" stroke-width="1.2" />
<line x1="369.26" y1="245.50" x2="373.26" y2="245.50" stroke="#a84050" stroke-width="1.2" />
<line x1="369.26" y1="267.50" x2="373.26" y2="267.50" stroke="#a84050" stroke-width="1.2" />
<line x1="375.80" y1="240.50" x2="375.80" y2="257.50" stroke="#a84050" stroke-width="1.2" />
<line x1="373.80" y1="240.50" x2="377.80" y2="240.50" stroke="#a84050" stroke-width="1.2" />
<line x1="373.80" y1="257.50" x2="377.80" y2="257.50" stroke="#a84050" stroke-width="1.2" />
<line x1="389.42" y1="248.80" x2="389.42" y2="265.40" stroke="#a84050" stroke-width="1.2" />
<line x1="387.42" y1="248.80" x2="391.42" y2="248.80" stroke="#a84050" stroke-width="1.2" />
<line x1="387.42" y1="265.40" x2="391.42" y2="265.40" stroke="#a84050" stroke-width="1.2" />
<line x1="407.57" y1="245.50" x2="407.57" y2="267.50" stroke="#a84050" stroke-width="1.2" />
<line x1="405.57" y1="245.50" x2="409.57" y2="245.50" stroke="#a84050" stroke-width="1.2" />
<line x1="405.57" y1="267.50" x2="409.57" y2="267.50" stroke="#a84050" stroke-width="1.2" />
<line x1="425.73" y1="243.80" x2="425.73" y2="266.20" stroke="#a84050" stroke-width="1.2" />
<line x1="423.73" y1="243.80" x2="427.73" y2="243.80" stroke="#a84050" stroke-width="1.2" />
<line x1="423.73" y1="266.20" x2="427.73" y2="266.20" stroke="#a84050" stroke-width="1.2" />
<line x1="443.88" y1="244.50" x2="443.88" y2="260.50" stroke="#a84050" stroke-width="1.2" />
<line x1="441.88" y1="244.50" x2="445.88" y2="244.50" stroke="#a84050" stroke-width="1.2" />
<line x1="441.88" y1="260.50" x2="445.88" y2="260.50" stroke="#a84050" stroke-width="1.2" />
<line x1="462.04" y1="242.70" x2="462.04" y2="264.70" stroke="#a84050" stroke-width="1.2" />
<line x1="460.04" y1="242.70" x2="464.04" y2="242.70" stroke="#a84050" stroke-width="1.2" />
<line x1="460.04" y1="264.70" x2="464.04" y2="264.70" stroke="#a84050" stroke-width="1.2" />
<line x1="480.19" y1="244.70" x2="480.19" y2="261.50" stroke="#a84050" stroke-width="1.2" />
<line x1="478.19" y1="244.70" x2="482.19" y2="244.70" stroke="#a84050" stroke-width="1.2" />
<line x1="478.19" y1="261.50" x2="482.19" y2="261.50" stroke="#a84050" stroke-width="1.2" />
<line x1="484.73" y1="242.10" x2="484.73" y2="264.10" stroke="#a84050" stroke-width="1.2" />
<line x1="482.73" y1="242.10" x2="486.73" y2="242.10" stroke="#a84050" stroke-width="1.2" />
<line x1="482.73" y1="264.10" x2="486.73" y2="264.10" stroke="#a84050" stroke-width="1.2" />
<line x1="489.27" y1="242.10" x2="489.27" y2="264.10" stroke="#a84050" stroke-width="1.2" />
<line x1="487.27" y1="242.10" x2="491.27" y2="242.10" stroke="#a84050" stroke-width="1.2" />
<line x1="487.27" y1="264.10" x2="491.27" y2="264.10" stroke="#a84050" stroke-width="1.2" />
<line x1="493.81" y1="242.10" x2="493.81" y2="264.10" stroke="#a84050" stroke-width="1.2" />
<line x1="491.81" y1="242.10" x2="495.81" y2="242.10" stroke="#a84050" stroke-width="1.2" />
<line x1="491.81" y1="264.10" x2="495.81" y2="264.10" stroke="#a84050" stroke-width="1.2" />
<line x1="498.35" y1="242.10" x2="498.35" y2="264.10" stroke="#a84050" stroke-width="1.2" />
<line x1="496.35" y1="242.10" x2="500.35" y2="242.10" stroke="#a84050" stroke-width="1.2" />
<line x1="496.35" y1="264.10" x2="500.35" y2="264.10" stroke="#a84050" stroke-width="1.2" />
<circle cx="334.95" cy="253.80" r="2.95" fill="#f00018" stroke="#a8000c" stroke-width="0.9"/>
<circle cx="344.03" cy="252.90" r="2.95" fill="#f00018" stroke="#a8000c" stroke-width="0.9"/>
<circle cx="353.11" cy="253.70" r="2.95" fill="#f00018" stroke="#a8000c" stroke-width="0.9"/>
<circle cx="356.74" cy="254.20" r="2.95" fill="#f00018" stroke="#a8000c" stroke-width="0.9"/>
<circle cx="362.19" cy="254.80" r="2.95" fill="#f00018" stroke="#a8000c" stroke-width="0.9"/>
<circle cx="366.73" cy="249.80" r="2.95" fill="#f00018" stroke="#a8000c" stroke-width="0.9"/>
<circle cx="371.26" cy="256.50" r="2.95" fill="#f00018" stroke="#a8000c" stroke-width="0.9"/>
<circle cx="375.80" cy="249.00" r="2.95" fill="#f00018" stroke="#a8000c" stroke-width="0.9"/>
<circle cx="389.42" cy="257.10" r="2.95" fill="#f00018" stroke="#a8000c" stroke-width="0.9"/>
<circle cx="407.57" cy="256.50" r="2.95" fill="#f00018" stroke="#a8000c" stroke-width="0.9"/>
<circle cx="425.73" cy="255.00" r="2.95" fill="#f00018" stroke="#a8000c" stroke-width="0.9"/>
<circle cx="443.88" cy="252.50" r="2.95" fill="#f00018" stroke="#a8000c" stroke-width="0.9"/>
<circle cx="462.04" cy="253.70" r="2.95" fill="#f00018" stroke="#a8000c" stroke-width="0.9"/>
<circle cx="480.19" cy="253.10" r="2.95" fill="#f00018" stroke="#a8000c" stroke-width="0.9"/>
<circle cx="484.73" cy="253.10" r="2.95" fill="#f00018" stroke="#a8000c" stroke-width="0.9"/>
<circle cx="489.27" cy="253.10" r="2.95" fill="#f00018" stroke="#a8000c" stroke-width="0.9"/>
<circle cx="493.81" cy="253.10" r="2.95" fill="#f00018" stroke="#a8000c" stroke-width="0.9"/>
<circle cx="498.35" cy="253.10" r="2.95" fill="#f00018" stroke="#a8000c" stroke-width="0.9"/>
<text x="403" y="367.2" font-size="14.9">Hf|CoFeB|TaO<tspan font-size="10" dy="3">x</tspan></text>
<text x="265.60" y="223.00" font-size="21.5" text-anchor="start" font-weight="bold" font-style="normal" fill="#000" >(d)</text>
<text x="415.3" y="416" font-size="15" text-anchor="middle"><tspan font-style="italic">t</tspan><tspan font-size="10" dy="6">CoFeB</tspan><tspan dy="-6"> (nm)</tspan></text>
<text transform="translate(290.6,306.1) rotate(-90)" x="0" y="0" font-size="16.5" text-anchor="middle"><tspan font-style="italic" dy="1.5">β</tspan><tspan font-style="italic" font-size="11" dy="5.5">z</tspan><tspan dy="-7"> (Oe/10</tspan><tspan font-size="11" dy="-8">7</tspan><tspan dy="8"> Acm</tspan><tspan font-size="11" dy="-8">-2</tspan><tspan dy="8">)</tspan></text>
</g>
</svg>
</body></html>
